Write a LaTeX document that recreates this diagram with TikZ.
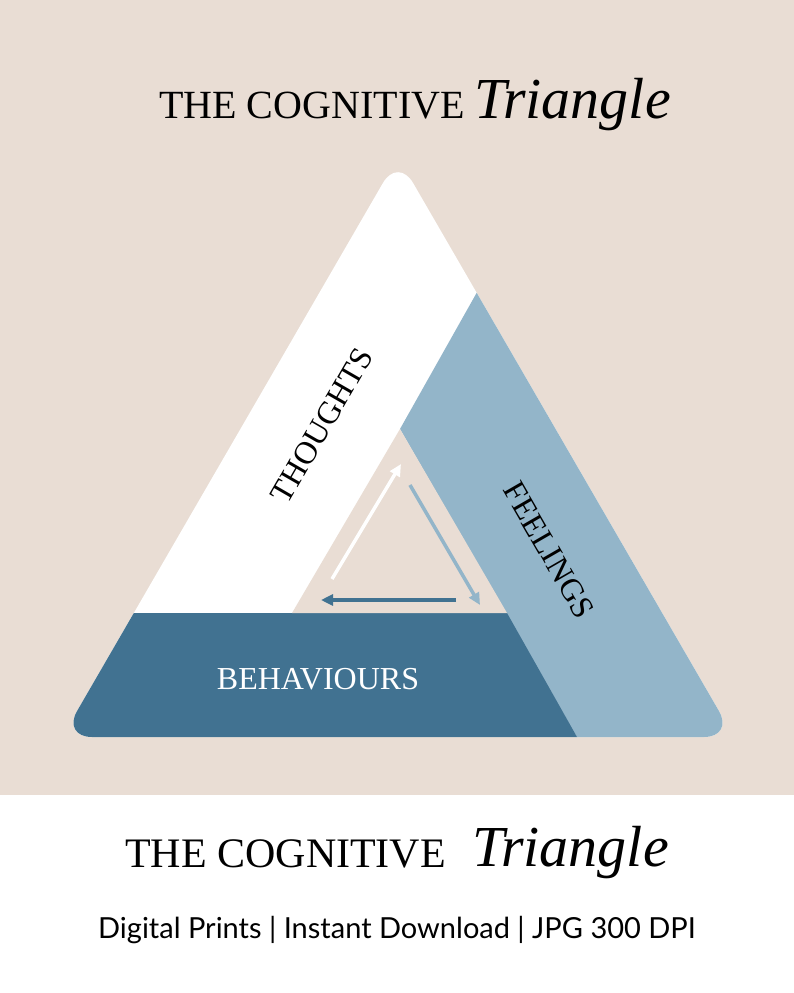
\documentclass[tikz,border=0pt]{standalone}
\usepackage{fontspec}
\setmainfont{Liberation Serif}
\newfontfamily\subfont{Lato}
\usetikzlibrary{arrows.meta}
\definecolor{beige}{HTML}{E9DDD4}
\definecolor{lightblue}{HTML}{93B5C9}
\definecolor{darkblue}{HTML}{417291}
\tikzset{
  arr/.style={line width=3.5pt,-{Triangle[length=12pt,width=11pt]}},
  label/.style={inner sep=0pt,font=\fontsize{32}{32}\selectfont},
  title/.style={inner sep=0pt,font=\fontsize{40}{40}\selectfont,anchor=base west},
  script/.style={inner sep=0pt,font=\fontsize{58}{58}\selectfont\itshape,anchor=base west},
}
\begin{document}
\begin{tikzpicture}[x=1pt,y=-1pt]
\useasboundingbox (0,0) rectangle (794,993);
\fill[beige] (0,0) rectangle (794,795);
\fill[white] (0,795) rectangle (794,993);
\begin{scope}
\path[clip,rounded corners=30pt] (398,157) -- (734,737) -- (62,737) -- cycle;
\fill[white] (0,100) rectangle (794,760);
\fill[lightblue] (476,294) -- (543,178) -- (800,620) -- (800,760) -- (590,760) -- (400,429) -- cycle;
\fill[darkblue] (0,613) -- (507,613) -- (590,760) -- (0,760) -- cycle;
\fill[beige] (400,429) -- (507,613) -- (292,613) -- cycle;
\end{scope}
\node[label,rotate=60] (th) at (322,426) {THOUGHTS};
\node[label,rotate=-60] (fe) at (549,550) {FEELINGS};
\node[label,white] (be) at (318,679) {BEHAVIOURS};
\coordinate (a1) at (332,579); \coordinate (a2) at (401,464);
\coordinate (b1) at (410,485); \coordinate (b2) at (480,605);
\coordinate (c1) at (456,600); \coordinate (c2) at (321,600);
\draw[arr,white] (a1) -- (a2);
\draw[arr,lightblue] (b1) -- (b2);
\draw[arr,darkblue] (c1) -- (c2);
\node[title] (t1) at (159,118) {THE COGNITIVE};
\node[script] (s1) at (474,118) {Triangle};
\node[title,font=\fontsize{42}{42}\selectfont] (t2) at (125,867) {THE COGNITIVE};
\node[script] (s2) at (472,866) {Triangle};
\node[inner sep=0pt,font=\subfont\fontsize{29}{29}\selectfont] (sub) at (397,930) {Digital Prints | Instant Download | JPG 300 DPI};
\end{tikzpicture}
\end{document}
